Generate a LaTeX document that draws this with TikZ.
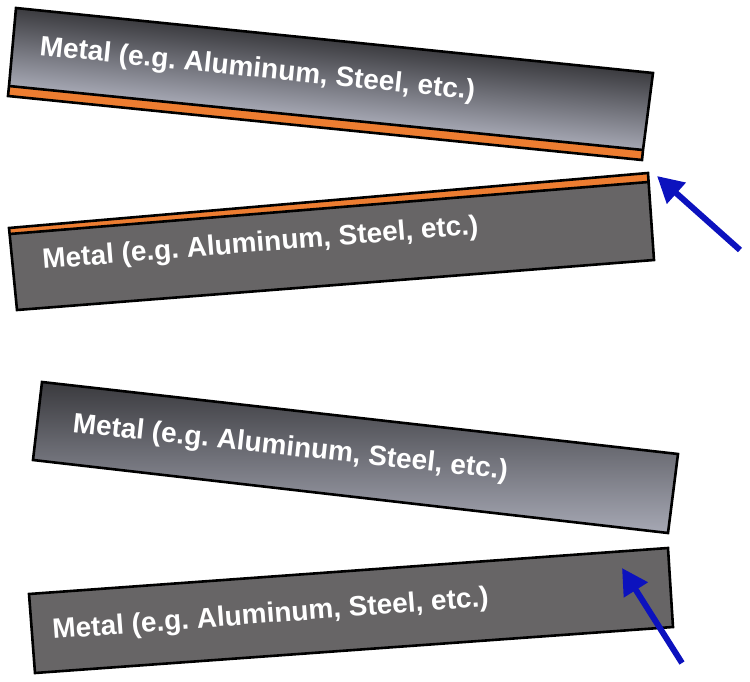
\documentclass[tikz,border=0pt]{standalone}
\usepackage{fontspec}
\setmainfont{Liberation Sans}
\usetikzlibrary{arrows.meta}
\frenchspacing
\definecolor{metaldark}{RGB}{58,58,62}
\definecolor{metallight}{RGB}{166,168,180}
\definecolor{metalflat}{RGB}{103,101,102}
\definecolor{coat}{RGB}{237,125,49}
\definecolor{arrowblue}{RGB}{12,18,190}
\tikzset{
  outline/.style={draw=black, line width=2.6pt, line join=miter},
  label/.style={text=white, font=\fontsize{28}{32}\selectfont\bfseries, inner sep=0pt, anchor=base west},
  bluearrow/.style={draw=arrowblue, line width=6pt, -{Triangle[length=26pt,width=27pt]}},
}
\begin{document}
\begin{tikzpicture}[x=1pt,y=-1pt]
\useasboundingbox (0,0) rectangle (750,682);
% ---------- plate 1 (gradient, orange coat below) ----------
\coordinate (p1a) at (16,8);
\coordinate (p1b) at (653,73);
\coordinate (p1c) at (643,150);
\coordinate (p1d) at (9,86);
\coordinate (p1e) at (642,160);
\coordinate (p1f) at (8,96);
\begin{scope}
  \clip (p1a) -- (p1b) -- (p1c) -- (p1d) -- cycle;
  \shade[transform canvas={shift={(330,79)},rotate=-5.85}, top color=metaldark, bottom color=metallight]
    (-360,-40) rectangle (360,40);
\end{scope}
\fill[coat] (p1d) -- (p1c) -- (p1e) -- (p1f) -- cycle;
\draw[outline] (p1a) -- (p1b) -- (p1c) -- (p1e) -- (p1f) -- (p1d) -- cycle;
\draw[outline] (p1d) -- (p1c);
\node[label, rotate=-5.85] (t1) at (39,55) {Metal (e.g. Aluminum, Steel, etc.)};
% ---------- plate 2 (flat, orange coat above) ----------
\coordinate (p2a) at (9,228);
\coordinate (p2b) at (648,173);
\coordinate (p2c) at (648.6,182);
\coordinate (p2d) at (9.6,234);
\coordinate (p2e) at (654,260);
\coordinate (p2f) at (17,310);
\fill[coat] (p2a) -- (p2b) -- (p2c) -- (p2d) -- cycle;
\fill[metalflat] (p2d) -- (p2c) -- (p2e) -- (p2f) -- cycle;
\draw[outline] (p2a) -- (p2b) -- (p2c) -- (p2e) -- (p2f) -- (p2d) -- cycle;
\draw[outline] (p2d) -- (p2c);
\node[label, rotate=4.55] (t2) at (43,269) {Metal (e.g. Aluminum, Steel, etc.)};
% ---------- arrow 1 ----------
\coordinate (a1tail) at (740,250);
\coordinate (a1tip) at (657,176);
\draw[bluearrow] (a1tail) -- (a1tip);
% ---------- plate 3 (gradient) ----------
\coordinate (p3a) at (42,382);
\coordinate (p3b) at (678,454);
\coordinate (p3c) at (668,533);
\coordinate (p3d) at (33,460);
\shade[top color=metaldark, bottom color=metallight] (p3a) -- (p3b) -- (p3c) -- (p3d) -- cycle;
\draw[outline] (p3a) -- (p3b) -- (p3c) -- (p3d) -- cycle;
\node[label, rotate=-6.2] (t3) at (72,432) {Metal (e.g. Aluminum, Steel, etc.)};
% ---------- plate 4 (flat) ----------
\coordinate (p4a) at (29,594);
\coordinate (p4b) at (668,548);
\coordinate (p4c) at (673,627);
\coordinate (p4d) at (35,673);
\fill[metalflat] (p4a) -- (p4b) -- (p4c) -- (p4d) -- cycle;
\draw[outline] (p4a) -- (p4b) -- (p4c) -- (p4d) -- cycle;
\node[label, rotate=4.3] (t4) at (53,639) {Metal (e.g. Aluminum, Steel, etc.)};
% ---------- arrow 2 ----------
\coordinate (a2tail) at (682,663);
\coordinate (a2tip) at (622,568);
\draw[bluearrow] (a2tail) -- (a2tip);
\end{tikzpicture}
\end{document}
